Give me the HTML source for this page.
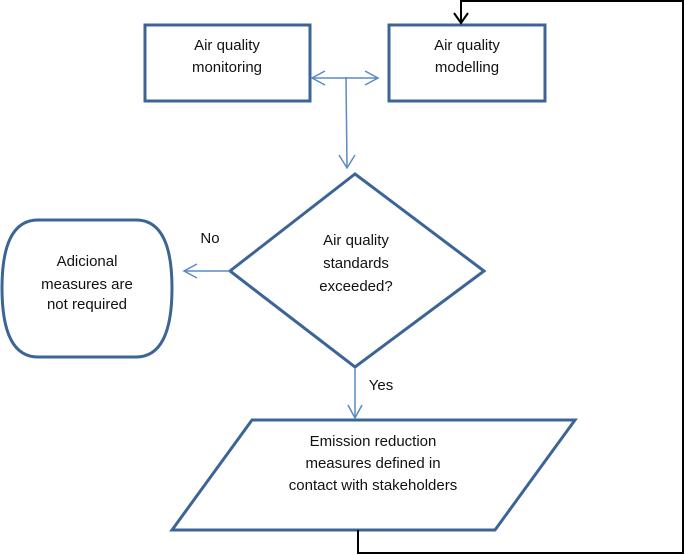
<!DOCTYPE html>
<html><head><meta charset="utf-8"><style>
html,body{margin:0;padding:0;background:#fff;}
svg{display:block;}
text{font-family:"Liberation Sans",Arial,sans-serif;font-size:15px;fill:#111;text-anchor:middle;}
</style></head><body>
<svg width="685" height="555" viewBox="0 0 685 555">
<g fill="none" stroke="#3d6496" stroke-width="3">
<rect x="145" y="25" width="165" height="76"/>
<rect x="389" y="25" width="156" height="76"/>
<polygon points="355,174 484,271 355,367 230,271"/>
<path d="M38,220 H136 Q172,220 172,288 Q172,357 136,357 H38 Q2,357 2,288 Q2,220 38,220 Z"/>
<polygon points="252,420 575,420 495,530 172,530"/>
</g>
<g fill="none" stroke="#5b8ac6" stroke-width="1.5">
<line x1="312" y1="78" x2="378" y2="78"/>
<polyline points="325,71 312,78 325,85"/>
<polyline points="365,71 378,78 365,85"/>
<line x1="346" y1="77" x2="347" y2="167"/>
<polyline points="339,155 347,168 355,155"/>
<line x1="230" y1="271" x2="184" y2="271"/>
<polyline points="197,264 184,271 197,278"/>
<line x1="355" y1="368" x2="355" y2="418"/>
<polyline points="348,405 355,418 362,405"/>
</g>
<g fill="none" stroke="#000" stroke-width="2">
<polyline points="358,530 358,553 683,553 683,1 461,1 461,23"/>
<polyline points="454,13 461,23 468,13"/>
</g>
<text x="227" y="50">Air quality</text>
<text x="227" y="72">monitoring</text>
<text x="467" y="50">Air quality</text>
<text x="467" y="72">modelling</text>
<text x="356" y="245">Air quality</text>
<text x="356" y="268">standards</text>
<text x="356" y="291">exceeded?</text>
<text x="87" y="266">Adicional</text>
<text x="87" y="289">measures are</text>
<text x="87" y="309">not required</text>
<text x="210" y="243">No</text>
<text x="381" y="390">Yes</text>
<text x="373" y="446">Emission reduction</text>
<text x="373" y="468">measures defined in</text>
<text x="373" y="490">contact with stakeholders</text>
</g>
</svg>
</body></html>
